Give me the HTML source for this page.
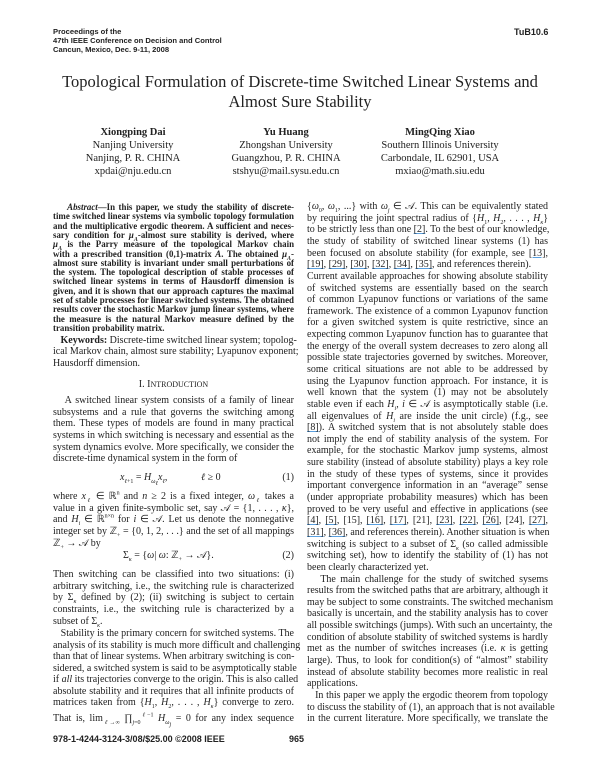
<!DOCTYPE html>
<html><head><meta charset="utf-8">
<style>
body{margin:0;background:#fff;}
#p{position:relative;width:600px;height:776px;overflow:hidden;background:#fff;color:#222;font-family:"Liberation Serif",serif;}
.h{position:absolute;font-family:"Liberation Sans",sans-serif;font-weight:bold;font-size:7.6px;color:#222;white-space:nowrap;}
.c{position:absolute;white-space:nowrap;text-align:center;}
.L,.R{position:absolute;white-space:nowrap;font-size:10px;line-height:12px;text-align:justify;text-align-last:justify;}
.L{left:53px;width:241px;}
.R{left:307px;width:241px;}
.e{text-align-last:left;}
.a{font-weight:bold;font-size:8.9px;}
.k{color:#222;text-decoration:underline;text-decoration-color:#5aa0e0;}
sub,sup{line-height:0;font-size:6px;}
i{font-style:italic;}
</style></head><body><div id="p">
<div class="h" style="left:53px;top:27px">Proceedings of the</div>
<div class="h" style="left:53px;top:36px">47th IEEE Conference on Decision and Control</div>
<div class="h" style="left:53px;top:45px">Cancun, Mexico, Dec. 9-11, 2008</div>
<div class="h" style="left:514px;top:27px;font-size:9px">TuB10.6</div>

<div class="c" style="left:0;width:600px;top:72px;font-size:16.5px;line-height:20px">Topological Formulation of Discrete-time Switched Linear Systems and<br>Almost Sure Stability</div>

<div class="c" style="left:73px;width:120px;top:126px;font-size:10.5px;line-height:13px"><b>Xiongping Dai</b><br>Nanjing University<br>Nanjing, P. R. CHINA<br>xpdai@nju.edu.cn</div>
<div class="c" style="left:226px;width:120px;top:126px;font-size:10.5px;line-height:13px"><b>Yu Huang</b><br>Zhongshan University<br>Guangzhou, P. R. CHINA<br>stshyu@mail.sysu.edu.cn</div>
<div class="c" style="left:370px;width:140px;top:126px;font-size:10.5px;line-height:13px"><b>MingQing Xiao</b><br>Southern Illinois University<br>Carbondale, IL 62901, USA<br>mxiao@math.siu.edu</div>

<!-- Abstract -->
<div class="L a" style="top:201px">&nbsp;&nbsp;&nbsp;&nbsp;<i>Abstract</i>—In this paper, we study the stability of discrete-</div>
<div class="L a" style="top:210.3px">time switched linear systems via symbolic topology formulation</div>
<div class="L a" style="top:219.6px">and the multiplicative ergodic theorem. A sufficient and neces-</div>
<div class="L a" style="top:228.9px">sary condition for <i>μ<sub>A</sub></i>-almost sure stability is derived, where</div>
<div class="L a" style="top:238.2px"><i>μ<sub>A</sub></i> is the Parry measure of the topological Markov chain</div>
<div class="L a" style="top:247.5px">with a prescribed transition (0,1)-matrix <i>A</i>. The obtained <i>μ<sub>A</sub></i>-</div>
<div class="L a" style="top:256.8px">almost sure stability is invariant under small perturbations of</div>
<div class="L a" style="top:266.1px">the system. The topological description of stable processes of</div>
<div class="L a" style="top:275.4px">switched linear systems in terms of Hausdorff dimension is</div>
<div class="L a" style="top:284.7px">given, and it is shown that our approach captures the maximal</div>
<div class="L a" style="top:294px">set of stable processes for linear switched systems. The obtained</div>
<div class="L a" style="top:303.3px">results cover the stochastic Markov jump linear systems, where</div>
<div class="L a" style="top:312.6px">the measure is the natural Markov measure defined by the</div>
<div class="L a e" style="top:321.9px">transition probability matrix.</div>

<div class="L" style="top:335px">&nbsp;&nbsp;&nbsp;<b>Keywords:</b> Discrete-time switched linear system; topolog-</div>
<div class="L" style="top:346px">ical Markov chain, almost sure stability; Lyapunov exponent;</div>
<div class="L e" style="top:358px">Hausdorff dimension.</div>

<div class="c" style="left:53px;width:241px;top:379px;font-size:10px">I. I<span style="font-size:8px">NTRODUCTION</span></div>

<div class="L" style="top:395px">&nbsp;&nbsp;&nbsp;A switched linear system consists of a family of linear</div>
<div class="L" style="top:407px">subsystems and a rule that governs the switching among</div>
<div class="L" style="top:418px">them. These types of models are found in many practical</div>
<div class="L" style="top:430px">systems in which switching is necessary and essential as the</div>
<div class="L" style="top:442px">system dynamics evolve. More specifically, we consider the</div>
<div class="L e" style="top:453px">discrete-time dynamical system in the form of</div>
<div class="L e" style="top:472px"><span style="position:absolute;left:67px"><i>x</i><sub><i>ℓ</i>+1</sub> = <i>H</i><sub><i>ω<sub>ℓ</sub></i></sub><i>x<sub>ℓ</sub></i>,</span><span style="position:absolute;left:148px"><i>ℓ</i> ≥ 0</span><span style="position:absolute;right:0">(1)</span></div>
<div class="L" style="top:491px">where <i>x<sub>ℓ</sub></i> ∈ ℝ<sup>n</sup> and <i>n</i> ≥ 2 is a fixed integer, <i>ω<sub>ℓ</sub></i> takes a</div>
<div class="L" style="top:503px">value in a given finite-symbolic set, say 𝒜 = {1, . . . , <i>κ</i>},</div>
<div class="L" style="top:514px">and <i>H<sub>i</sub></i> ∈ ℝ<sup>n×n</sup> for <i>i</i> ∈ 𝒜. Let us denote the nonnegative</div>
<div class="L" style="top:526px">integer set by ℤ<sub>+</sub> = {0, 1, 2, . . .} and the set of all mappings</div>
<div class="L e" style="top:538px">ℤ<sub>+</sub> → 𝒜 by</div>
<div class="L e" style="top:550px"><span style="position:absolute;left:70px">Σ<sub><i>κ</i></sub> = {<i>ω</i>| <i>ω</i>: ℤ<sub>+</sub> → 𝒜}.</span><span style="position:absolute;right:0">(2)</span></div>
<div class="L" style="top:569px">Then switching can be classified into two situations: (i)</div>
<div class="L" style="top:581px">arbitrary switching, i.e., the switching rule is characterized</div>
<div class="L" style="top:592px">by Σ<sub><i>κ</i></sub> defined by (2); (ii) switching is subject to certain</div>
<div class="L" style="top:604px">constraints, i.e., the switching rule is characterized by a</div>
<div class="L e" style="top:616px">subset of Σ<sub><i>κ</i></sub>.</div>
<div class="L" style="top:628px">&nbsp;&nbsp;&nbsp;Stability is the primary concern for switched systems. The</div>
<div class="L" style="top:640px">analysis of its stability is much more difficult and challenging</div>
<div class="L" style="top:651px">than that of linear systems. When arbitrary switching is con-</div>
<div class="L" style="top:663px">sidered, a switched system is said to be asymptotically stable</div>
<div class="L" style="top:674px">if <i>all</i> its trajectories converge to the origin. This is also called</div>
<div class="L" style="top:686px">absolute stability and it requires that all infinite products of</div>
<div class="L" style="top:697px">matrices taken from {<i>H</i><sub>1</sub>, <i>H</i><sub>2</sub>, . . . , <i>H<sub>κ</sub></i>} converge to zero.</div>
<div class="L" style="top:713px">That is, lim<sub><i>ℓ</i>→∞</sub> ∏<sub><i>j</i>=0</sub><sup><i>ℓ</i>−1</sup> <i>H</i><sub><i>ω<sub>j</sub></i></sub> = 0 for any index sequence</div>

<!-- right column -->
<div class="R" style="top:201px">{<i>ω</i><sub>0</sub>, <i>ω</i><sub>1</sub>, ...} with <i>ω<sub>j</sub></i> ∈ 𝒜. This can be equivalently stated</div>
<div class="R" style="top:212.6px">by requiring the joint spectral radius of {<i>H</i><sub>1</sub>, <i>H</i><sub>2</sub>, . . . , <i>H<sub>κ</sub></i>}</div>
<div class="R" style="top:224.3px">to be strictly less than one <span class="k">[2]</span>. To the best of our knowledge,</div>
<div class="R" style="top:235.9px">the study of stability of switched linear systems (1) has</div>
<div class="R" style="top:247.6px">been focused on absolute stability (for example, see <span class="k">[13]</span>,</div>
<div class="R e" style="top:259.2px"><span class="k">[19]</span>, <span class="k">[29]</span>, <span class="k">[30]</span>, <span class="k">[32]</span>, <span class="k">[34]</span>, <span class="k">[35]</span>, and references therein).</div>
<div class="R" style="top:270.8px">Current available approaches for showing absolute stability</div>
<div class="R" style="top:282.5px">of switched systems are essentially based on the search</div>
<div class="R" style="top:294.1px">of common Lyapunov functions or variations of the same</div>
<div class="R" style="top:305.8px">framework. The existence of a common Lyapunov function</div>
<div class="R" style="top:317.4px">for a given switched system is quite restrictive, since an</div>
<div class="R" style="top:329px">expecting common Lyapunov function has to guarantee that</div>
<div class="R" style="top:340.7px">the energy of the overall system decreases to zero along all</div>
<div class="R" style="top:352.3px">possible state trajectories governed by switches. Moreover,</div>
<div class="R" style="top:364px">some critical situations are not able to be addressed by</div>
<div class="R" style="top:375.6px">using the Lyapunov function approach. For instance, it is</div>
<div class="R" style="top:387.2px">well known that the system (1) may not be absolutely</div>
<div class="R" style="top:398.9px">stable even if each <i>H<sub>i</sub></i>, <i>i</i> ∈ 𝒜 is asymptotically stable (i.e.</div>
<div class="R" style="top:410.5px">all eigenvalues of <i>H<sub>i</sub></i> are inside the unit circle) (f.g., see</div>
<div class="R" style="top:422.2px"><span class="k">[8]</span>). A switched system that is not absolutely stable does</div>
<div class="R" style="top:433.8px">not imply the end of stability analysis of the system. For</div>
<div class="R" style="top:445.4px">example, for the stochastic Markov jump systems, almost</div>
<div class="R" style="top:457.1px">sure stability (instead of absolute stability) plays a key role</div>
<div class="R" style="top:468.7px">in the study of these types of systems, since it provides</div>
<div class="R" style="top:480.4px">important convergence information in an “average” sense</div>
<div class="R" style="top:492px">(under appropriate probability measures) which has been</div>
<div class="R" style="top:503.6px">proved to be very useful and effective in applications (see</div>
<div class="R" style="top:515.3px"><span class="k">[4]</span>, <span class="k">[5]</span>, [15], <span class="k">[16]</span>, <span class="k">[17]</span>, [21], <span class="k">[23]</span>, <span class="k">[22]</span>, <span class="k">[26]</span>, [24], <span class="k">[27]</span>,</div>
<div class="R" style="top:526.9px"><span class="k">[31]</span>, <span class="k">[36]</span>, and references therein). Another situation is when</div>
<div class="R" style="top:538.6px">switching is subject to a subset of Σ<sub><i>κ</i></sub> (so called admissible</div>
<div class="R" style="top:550.2px">switching set), how to identify the stability of (1) has not</div>
<div class="R e" style="top:561.8px">been clearly characterized yet.</div>
<div class="R" style="top:573.5px">&nbsp;&nbsp;&nbsp;The main challenge for the study of switched sysems</div>
<div class="R" style="top:585.1px">results from the switched paths that are arbitrary, although it</div>
<div class="R" style="top:596.8px">may be subject to some constraints. The switched mechanism</div>
<div class="R" style="top:608.4px">basically is uncertain, and the stability analysis has to cover</div>
<div class="R" style="top:620px">all possible switchings (jumps). With such an uncertainty, the</div>
<div class="R" style="top:631.7px">condition of absolute stability of switched systems is hardly</div>
<div class="R" style="top:643.3px">met as the number of switches increases (i.e. <i>κ</i> is getting</div>
<div class="R" style="top:655px">large). Thus, to look for condition(s) of “almost” stability</div>
<div class="R" style="top:666.6px">instead of absolute stability becomes more realistic in real</div>
<div class="R e" style="top:678.2px">applications.</div>
<div class="R" style="top:689.9px">&nbsp;&nbsp;&nbsp;In this paper we apply the ergodic theorem from topology</div>
<div class="R" style="top:701.5px">to discuss the stability of (1), an approach that is not available</div>
<div class="R" style="top:713.2px">in the current literature. More specifically, we translate the</div>

<div class="h" style="left:53px;top:734px;font-size:9px">978-1-4244-3124-3/08/$25.00 ©2008 IEEE</div>
<div class="h" style="left:289px;top:734px;font-size:9px">965</div>
</div></body></html>
